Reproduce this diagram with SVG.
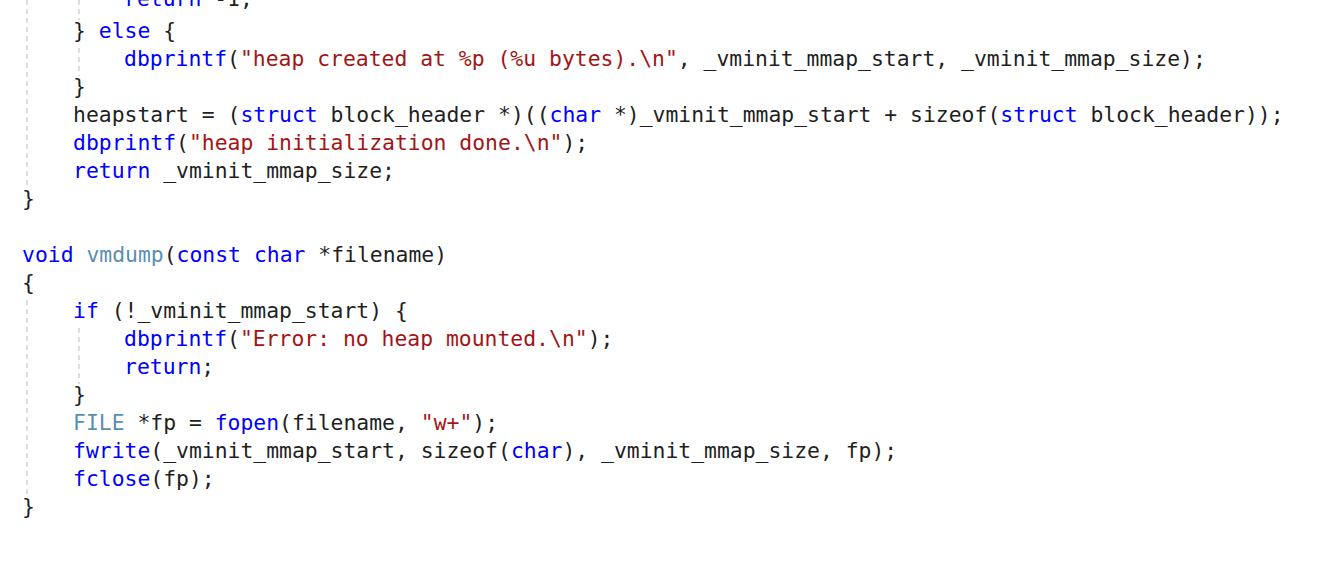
<svg xmlns="http://www.w3.org/2000/svg" width="1332" height="576" viewBox="0 0 1332 576">
<style>
text{font-family:"DejaVu Sans Mono","Liberation Mono",monospace;font-size:21.4px;fill:#1f1f1f;white-space:pre}
.k{fill:#0000ff}.s{fill:#a31515}.f{fill:#5b8fb0}
.g{stroke:#d4d4d4;stroke-width:1.5;stroke-dasharray:5 4}
</style>
<rect width="1332" height="576" fill="#fff"/>
<line class="g" x1="27" y1="0" x2="27" y2="188"/>
<line class="g" x1="79" y1="0" x2="79" y2="20"/>
<line class="g" x1="79" y1="48" x2="79" y2="76"/>
<line class="g" x1="27" y1="300" x2="27" y2="496"/>
<line class="g" x1="79" y1="328" x2="79" y2="384"/>
<text x="124" y="6"><tspan class="k">return</tspan> -1;</text>
<text x="73" y="38">} <tspan class="k">else</tspan> {</text>
<text x="124" y="66"><tspan class="k">dbprintf</tspan>(<tspan class="s">"heap created at %p (%u bytes).\n"</tspan>, _vminit_mmap_start, _vminit_mmap_size);</text>
<text x="73" y="94">}</text>
<text x="73" y="122">heapstart = (<tspan class="k">struct</tspan> block_header *)((<tspan class="k">char</tspan> *)_vminit_mmap_start + sizeof(<tspan class="k">struct</tspan> block_header));</text>
<text x="73" y="150"><tspan class="k">dbprintf</tspan>(<tspan class="s">"heap initialization done.\n"</tspan>);</text>
<text x="73" y="178"><tspan class="k">return</tspan> _vminit_mmap_size;</text>
<text x="22" y="206">}</text>
<text x="22" y="262"><tspan class="k">void</tspan> <tspan class="f">vmdump</tspan>(<tspan class="k">const</tspan> <tspan class="k">char</tspan> *filename)</text>
<text x="22" y="290">{</text>
<text x="73" y="318"><tspan class="k">if</tspan> (!_vminit_mmap_start) {</text>
<text x="124" y="346"><tspan class="k">dbprintf</tspan>(<tspan class="s">"Error: no heap mounted.\n"</tspan>);</text>
<text x="124" y="374"><tspan class="k">return</tspan>;</text>
<text x="73" y="402">}</text>
<text x="73" y="430"><tspan class="f">FILE</tspan> *fp = <tspan class="k">fopen</tspan>(filename, <tspan class="s">"w+"</tspan>);</text>
<text x="73" y="458"><tspan class="k">fwrite</tspan>(_vminit_mmap_start, sizeof(<tspan class="k">char</tspan>), _vminit_mmap_size, fp);</text>
<text x="73" y="486"><tspan class="k">fclose</tspan>(fp);</text>
<text x="22" y="514">}</text>
</svg>
